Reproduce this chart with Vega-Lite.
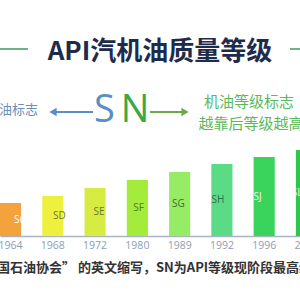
{
  "$schema": "https://vega.github.io/schema/vega-lite/v6.json",
  "width": 300,
  "height": 300,
  "autosize": {"type": "none"},
  "padding": 0,
  "background": "white",
  "config": {"view": {"stroke": null}, "font": "Open Sans"},
  "datasets": {
    "bars": [
      {"grade": "SC", "year": "1964", "h": 33},
      {"grade": "SD", "year": "1968", "h": 40},
      {"grade": "SE", "year": "1972", "h": 48},
      {"grade": "SF", "year": "1980", "h": 56},
      {"grade": "SG", "year": "1989", "h": 64},
      {"grade": "SH", "year": "1992", "h": 72},
      {"grade": "SJ", "year": "1996", "h": 79},
      {"grade": "SL", "year": "2001", "h": 86}
    ]
  },
  "layer": [
    {
      "data": {"name": "bars"},
      "mark": {"type": "bar"},
      "encoding": {
        "x": {"field": "year", "type": "ordinal", "scale": {"range": [0, 317], "paddingInner": 0.5, "paddingOuter": 0},
              "axis": {"title": null, "offset": -64, "ticks": false, "labelAngle": 0, "labelFontSize": 10.5, "labelColor": "#8d9cb3", "domainColor": "#aab4c4", "domainWidth": 1.5, "labelPadding": 4, "labelFont": "Open Sans"}},
        "y": {"field": "h", "type": "quantitative", "scale": {"domain": [-64, 236]}, "axis": null},
        "color": {"field": "grade", "type": "nominal",
                  "scale": {"domain": ["SC","SD","SE","SF","SG","SH","SJ","SL"], "range": ["#f4a23c","#eef03e","#d6ec42","#a4ec3c","#96ec64","#5cdb86","#3ad45c","#2cc84c"]},
                  "legend": null}
      }
    },
    {
      "data": {"name": "bars"},
      "mark": {"type": "text", "fontSize": 10, "font": "Open Sans", "baseline": "middle"},
      "encoding": {
        "x": {"field": "year", "type": "ordinal", "scale": {"range": [0, 317], "paddingInner": 0.5, "paddingOuter": 0}, "axis": null},
        "y": {"field": "h", "type": "quantitative", "scale": {"domain": [-128, 472]}, "axis": null},
        "text": {"field": "grade"},
        "color": {"field": "grade", "type": "nominal",
                  "scale": {"domain": ["SC","SD","SE","SF","SG","SH","SJ","SL"], "range": ["#ffffff","#76762c","#6a7a2c","#567a24","#3e6c30","#2e6e50","#eefaf0","#eefaf0"]},
                  "legend": null}
      }
    },
    {
      "data": {"values": [{"label": "API汽机油质量等级", "x": 160, "y": 52}]},
      "mark": {"type": "text", "fontSize": 26, "font": "Noto Sans CJK SC", "fontWeight": "bold", "color": "#1e2b4a", "align": "center", "baseline": "middle"},
      "encoding": {
        "x": {"field": "x", "type": "quantitative", "scale": {"domain": [0, 300]}, "axis": null},
        "y": {"field": "y", "type": "quantitative", "scale": {"domain": [0, 300], "reverse": true}, "axis": null},
        "text": {"field": "label"}
      }
    },
    {
      "data": {"values": [{"x": 0, "x2": 28, "y": 49}, {"x": 290, "x2": 300, "y": 49}]},
      "mark": {"type": "rule", "color": "#3c9a5c", "strokeWidth": 1.5},
      "encoding": {
        "x": {"field": "x", "type": "quantitative", "scale": {"domain": [0, 300]}, "axis": null},
        "x2": {"field": "x2"},
        "y": {"field": "y", "type": "quantitative", "scale": {"domain": [0, 300], "reverse": true}, "axis": null}
      }
    },
    {
      "data": {"values": [{"label": "机油标志", "x": 38, "y": 110}]},
      "mark": {"type": "text", "fontSize": 13, "font": "Noto Sans CJK SC", "color": "#6b8dba", "align": "right", "baseline": "middle"},
      "encoding": {
        "x": {"field": "x", "type": "quantitative", "scale": {"domain": [0, 300]}, "axis": null},
        "y": {"field": "y", "type": "quantitative", "scale": {"domain": [0, 300], "reverse": true}, "axis": null},
        "text": {"field": "label"}
      }
    },
    {
      "data": {"values": [{"x": 55, "x2": 93, "y": 112}]},
      "mark": {"type": "rule", "color": "#5b8cc8", "strokeWidth": 2},
      "encoding": {
        "x": {"field": "x", "type": "quantitative", "scale": {"domain": [0, 300]}, "axis": null},
        "x2": {"field": "x2"},
        "y": {"field": "y", "type": "quantitative", "scale": {"domain": [0, 300], "reverse": true}, "axis": null}
      }
    },
    {
      "data": {"values": [{"x": 53, "y": 112}]},
      "mark": {"type": "point", "shape": "triangle-left", "filled": true, "size": 70, "color": "#5b8cc8", "opacity": 1},
      "encoding": {
        "x": {"field": "x", "type": "quantitative", "scale": {"domain": [0, 300]}, "axis": null},
        "y": {"field": "y", "type": "quantitative", "scale": {"domain": [0, 300], "reverse": true}, "axis": null}
      }
    },
    {
      "data": {"values": [{"label": "S", "x": 104.5, "y": 122}]},
      "mark": {"type": "text", "fontSize": 38, "font": "Open Sans", "fontWeight": "normal", "color": "#5b8ec9", "align": "center", "baseline": "alphabetic"},
      "encoding": {
        "x": {"field": "x", "type": "quantitative", "scale": {"domain": [0, 300]}, "axis": null},
        "y": {"field": "y", "type": "quantitative", "scale": {"domain": [0, 300], "reverse": true}, "axis": null},
        "text": {"field": "label"}
      }
    },
    {
      "data": {"values": [{"label": "N", "x": 135, "y": 122}]},
      "mark": {"type": "text", "fontSize": 38, "font": "Open Sans", "fontWeight": "normal", "color": "#3aa843", "align": "center", "baseline": "alphabetic"},
      "encoding": {
        "x": {"field": "x", "type": "quantitative", "scale": {"domain": [0, 300]}, "axis": null},
        "y": {"field": "y", "type": "quantitative", "scale": {"domain": [0, 300], "reverse": true}, "axis": null},
        "text": {"field": "label"}
      }
    },
    {
      "data": {"values": [{"x": 150, "x2": 182, "y": 112}]},
      "mark": {"type": "rule", "color": "#6ea848", "strokeWidth": 2},
      "encoding": {
        "x": {"field": "x", "type": "quantitative", "scale": {"domain": [0, 300]}, "axis": null},
        "x2": {"field": "x2"},
        "y": {"field": "y", "type": "quantitative", "scale": {"domain": [0, 300], "reverse": true}, "axis": null}
      }
    },
    {
      "data": {"values": [{"x": 185, "y": 112}]},
      "mark": {"type": "point", "shape": "triangle-right", "filled": true, "size": 70, "color": "#6ea848", "opacity": 1},
      "encoding": {
        "x": {"field": "x", "type": "quantitative", "scale": {"domain": [0, 300]}, "axis": null},
        "y": {"field": "y", "type": "quantitative", "scale": {"domain": [0, 300], "reverse": true}, "axis": null}
      }
    },
    {
      "data": {"values": [{"label": "机油等级标志", "x": 249, "y": 102}, {"label": "越靠后等级越高", "x": 251, "y": 124}]},
      "mark": {"type": "text", "fontSize": 15, "font": "Noto Sans CJK SC", "color": "#5cb85c", "align": "center", "baseline": "middle"},
      "encoding": {
        "x": {"field": "x", "type": "quantitative", "scale": {"domain": [0, 300]}, "axis": null},
        "y": {"field": "y", "type": "quantitative", "scale": {"domain": [0, 300], "reverse": true}, "axis": null},
        "text": {"field": "label"}
      }
    },
    {
      "data": {"values": [{"label": "国石油协会” 的英文缩写，SN为API等级现阶段最高级别", "x": -3, "y": 268}]},
      "mark": {"type": "text", "fontSize": 13, "font": "Noto Sans CJK SC", "fontWeight": "bold", "color": "#333333", "align": "left", "baseline": "middle"},
      "encoding": {
        "x": {"field": "x", "type": "quantitative", "scale": {"domain": [0, 300]}, "axis": null},
        "y": {"field": "y", "type": "quantitative", "scale": {"domain": [0, 300], "reverse": true}, "axis": null},
        "text": {"field": "label"}
      }
    }
  ],
  "resolve": {"scale": {"x": "independent", "y": "independent", "color": "independent"}}
}
